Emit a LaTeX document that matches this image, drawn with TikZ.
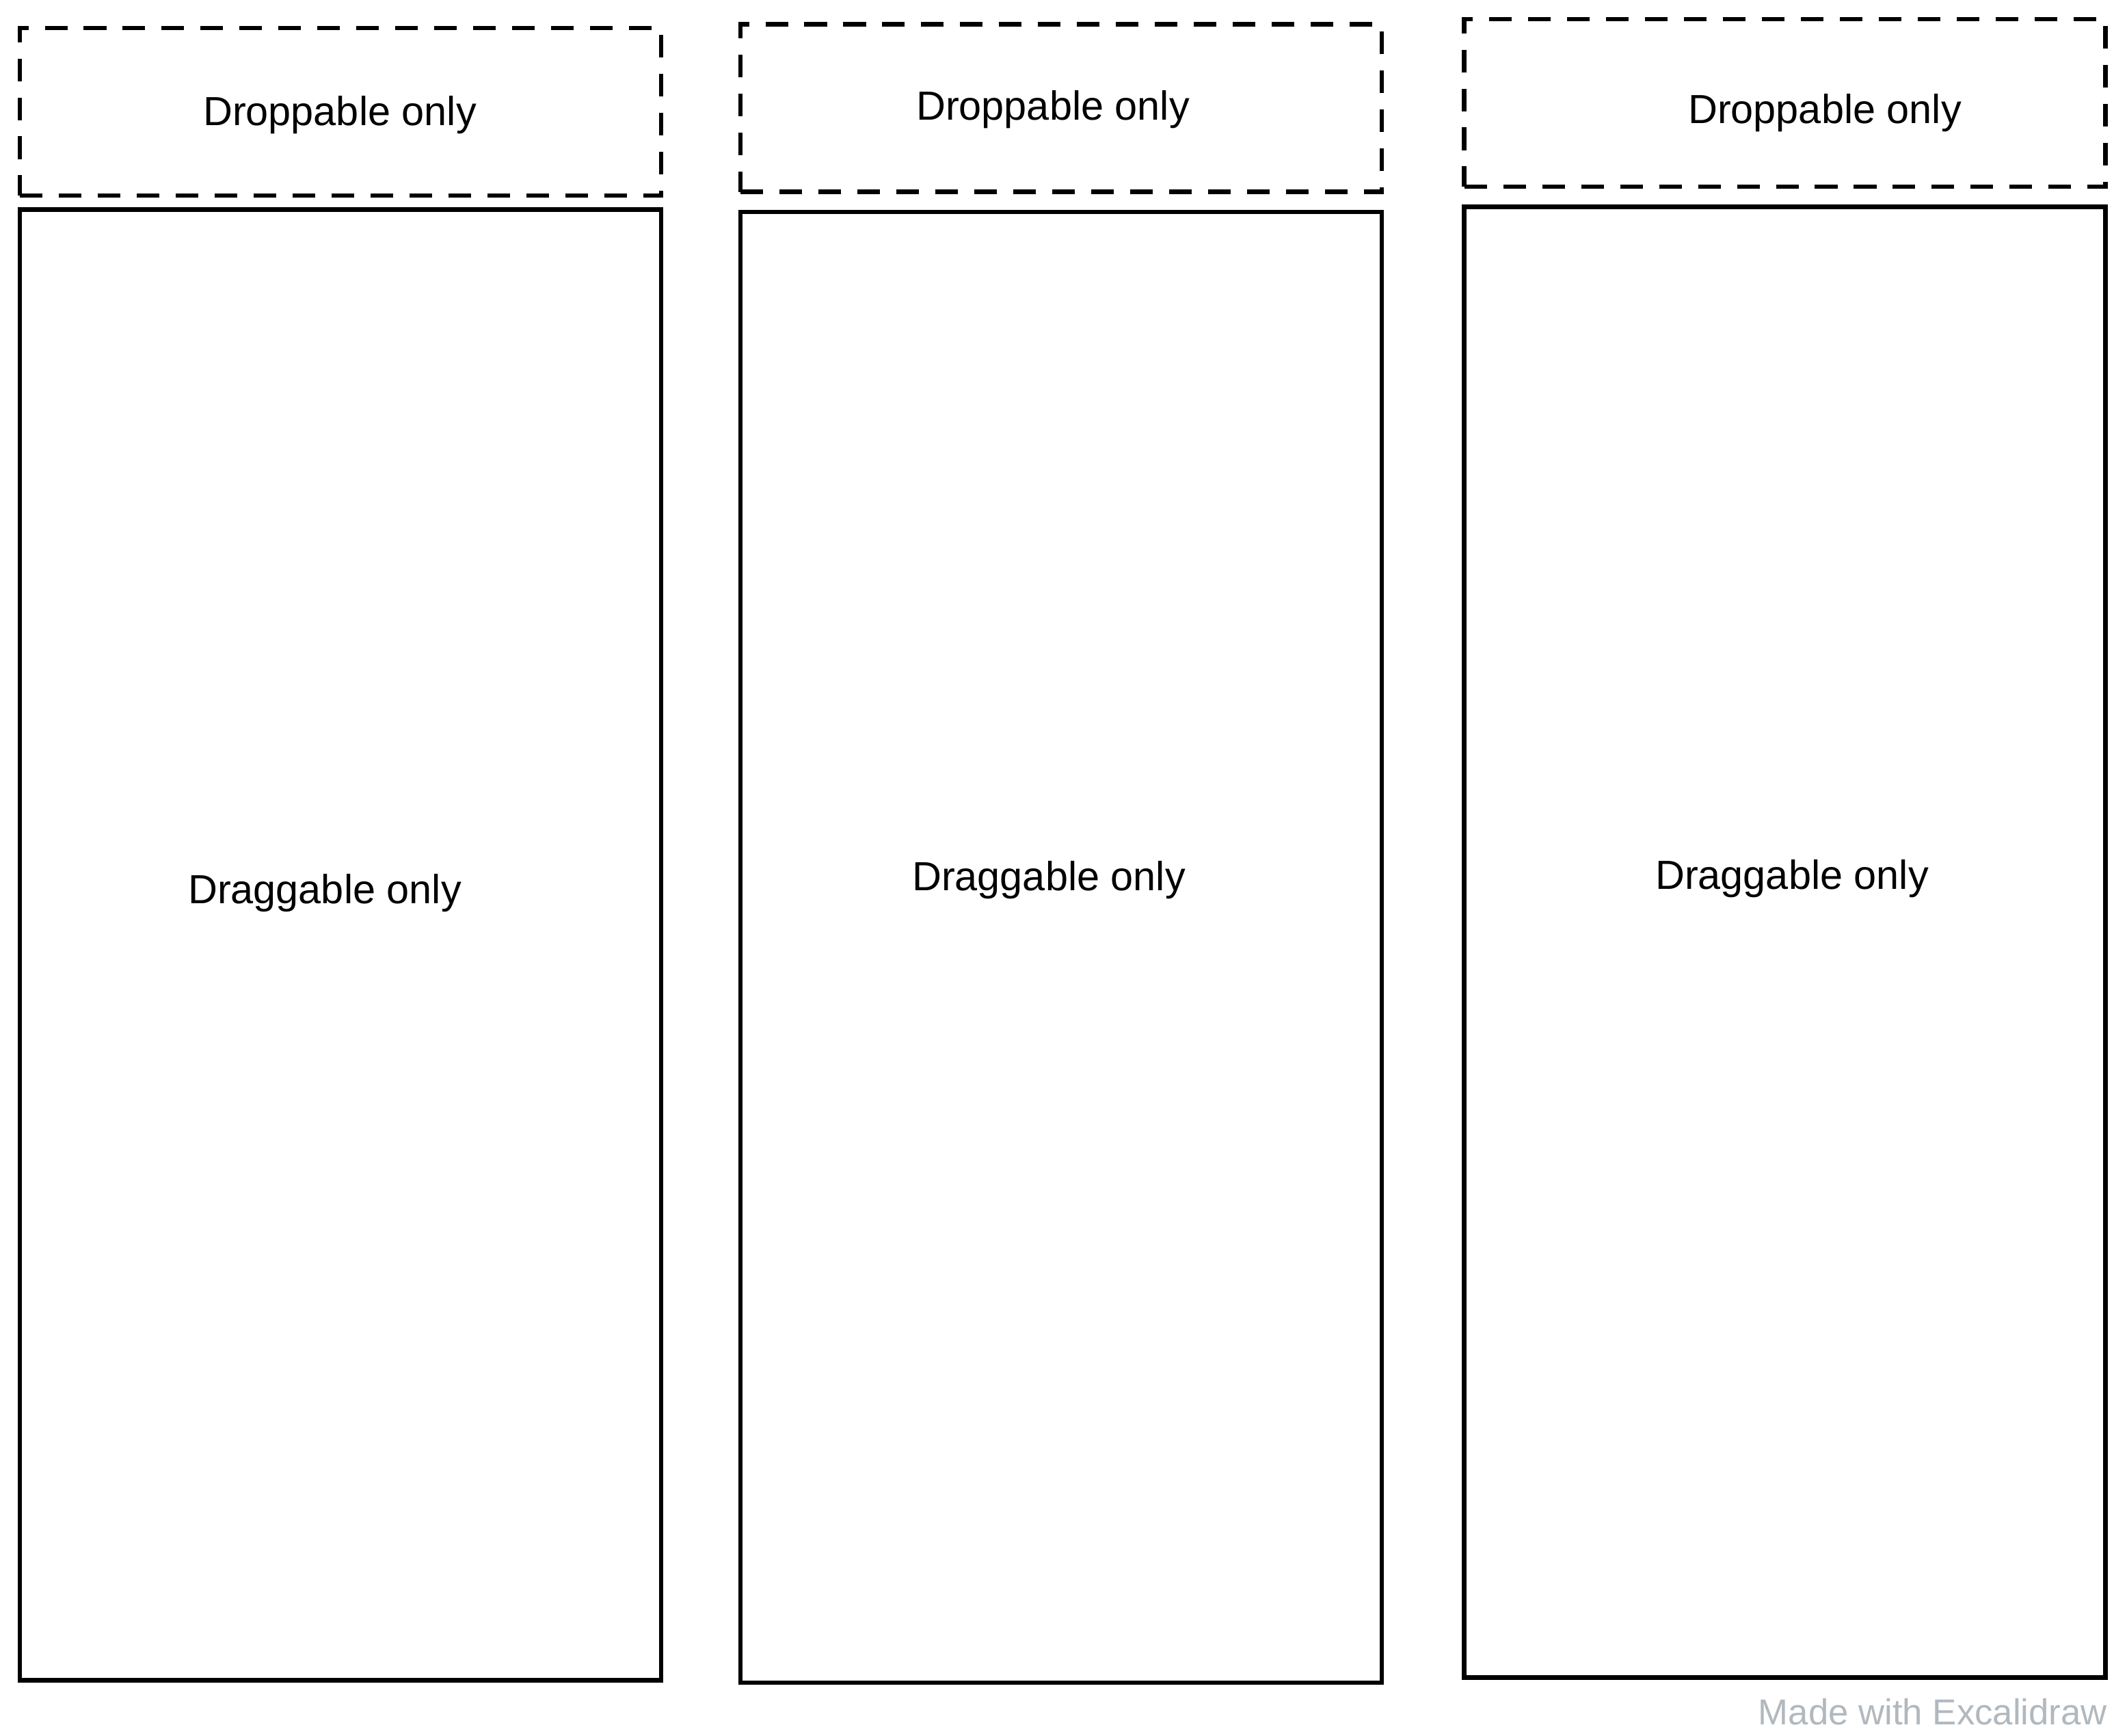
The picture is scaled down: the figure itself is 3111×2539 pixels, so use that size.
\documentclass[tikz,border=0pt]{standalone}
\usepackage{fontspec}
\setmainfont{Liberation Sans}
\definecolor{creditgray}{RGB}{177,184,190}
\tikzset{
  dropbox/.style={draw, line width=1.85pt, dash pattern=on 9.4pt off 6.8pt, minimum width=9.37cm, minimum height=2.45cm, inner sep=0pt},
  dragbox/.style={draw, line width=1.85pt, minimum width=9.37cm, minimum height=21.5cm, inner sep=0pt},
  boxlabel/.style={anchor=base, inner sep=0pt, font=\fontsize{16.9pt}{20pt}\selectfont}
}
\begin{document}
\begin{tikzpicture}[x=0.01cm, y=-0.01cm]
\useasboundingbox (0,0) rectangle (3111,2539);
\node[dropbox] (drop1) at (498,163.5){};
\node[dragbox] (drag1) at (498,1382){};
\node[dropbox] (drop2) at (1552,158){};
\node[dragbox] (drag2) at (1552,1385.5){};
\node[dropbox] (drop3) at (2610.5,150.5){};
\node[dragbox] (drag3) at (2610.5,1378){};
\node[boxlabel] (droptext1) at (497,183){Droppable only};
\node[boxlabel] (droptext2) at (1540,175){Droppable only};
\node[boxlabel] (droptext3) at (2669,180){Droppable only};
\node[boxlabel] (dragtext1) at (475,1321){Draggable only};
\node[boxlabel] (dragtext2) at (1534,1302){Draggable only};
\node[boxlabel] (dragtext3) at (2621,1300){Draggable only};
\node[anchor=base, inner sep=0pt, text=creditgray, font=\fontsize{15pt}{18pt}\selectfont] (credit) at (2827,2522){Made with Excalidraw};
\end{tikzpicture}
\end{document}
